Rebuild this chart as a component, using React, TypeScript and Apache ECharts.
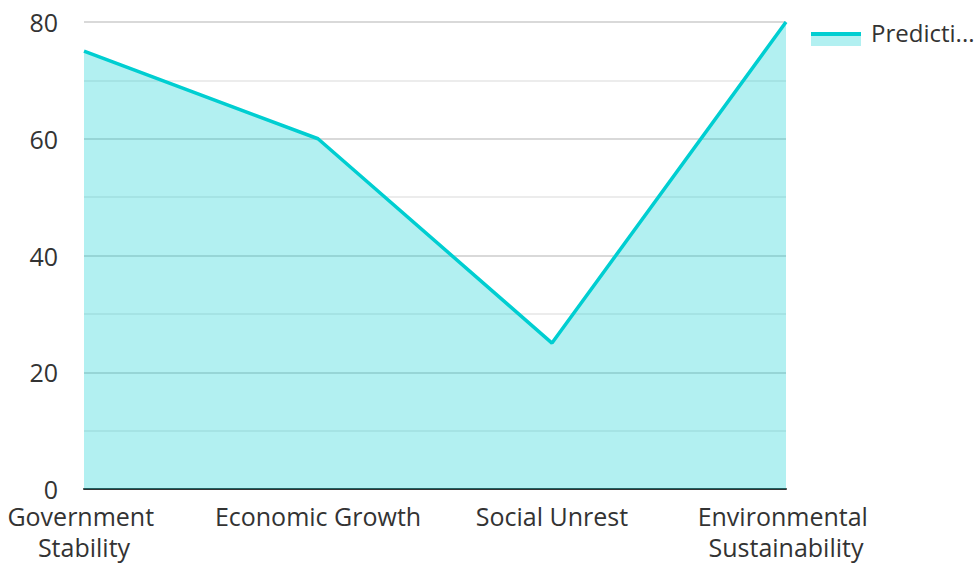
import React, { useEffect, useRef } from "react";
import * as echarts from "echarts";

const categories = ["Government Stability", "Economic Growth", "Social Unrest", "Environmental Sustainability"];
const seriesName = "Prediction";
const values = [75, 60, 25, 80];

export default function App() {
  const ref = useRef<HTMLDivElement>(null);
  useEffect(() => {
    const chart = echarts.init(ref.current!, null, { renderer: "svg" });
    const font = "'Open Sans', 'Noto Sans', sans-serif";
    chart.setOption({
      animation: false,
      textStyle: { fontFamily: font },
      grid: { left: 84, right: 192, top: 22, bottom: 74, outerBoundsMode: "none", containLabel: false },
      legend: {
        top: 15,
        left: 811,
        icon: "rect",
        itemWidth: 50,
        itemHeight: 14,
        itemStyle: { color: "rgba(0,0,0,0)" },
        textStyle: { fontSize: 24, color: "#333", width: 110, overflow: "truncate", ellipsis: "...", fontFamily: font },
        data: [seriesName],
      },
      graphic: [
        { type: "rect", left: 811, top: 36, shape: { width: 50, height: 10 }, style: { fill: "rgba(0,206,209,0.3)" }, z: 100 },
        { type: "rect", left: 811, top: 32, shape: { width: 50, height: 4 }, style: { fill: "#00CED1" }, z: 100 },
      ],
      xAxis: {
        type: "category",
        data: categories,
        boundaryGap: false,
        axisLine: { lineStyle: { color: "#333", width: 2 } },
        axisTick: { show: false },
        axisLabel: {
          interval: 0,
          fontSize: 25,
          color: "#333",
          margin: 11,
          width: 220,
          overflow: "break",
          lineHeight: 31,
          fontFamily: font,
        },
      },
      yAxis: {
        type: "value",
        min: 0,
        max: 80,
        interval: 20,
        axisLine: { show: false },
        axisTick: { show: false },
        axisLabel: { fontSize: 25, color: "#333", margin: 26, fontFamily: font },
        splitLine: { lineStyle: { color: "#ccc", width: 1.5 } },
        minorTick: { show: false, splitNumber: 2 },
        minorSplitLine: { show: true, lineStyle: { color: "#e6e6e6", width: 1.5 } },
      },
      series: [
        {
          name: seriesName,
          type: "line",
          data: values,
          symbol: "none",
          lineStyle: { color: "#00CED1", width: 3.5 },
          itemStyle: { color: "#00CED1" },
          areaStyle: { color: "#00CED1", opacity: 0.3 },
        },
      ],
    });
    return () => chart.dispose();
  }, []);
  return <div ref={ref} style={{ position: "absolute", left: 0, top: 0, width: 978, height: 563 }} />;
}
